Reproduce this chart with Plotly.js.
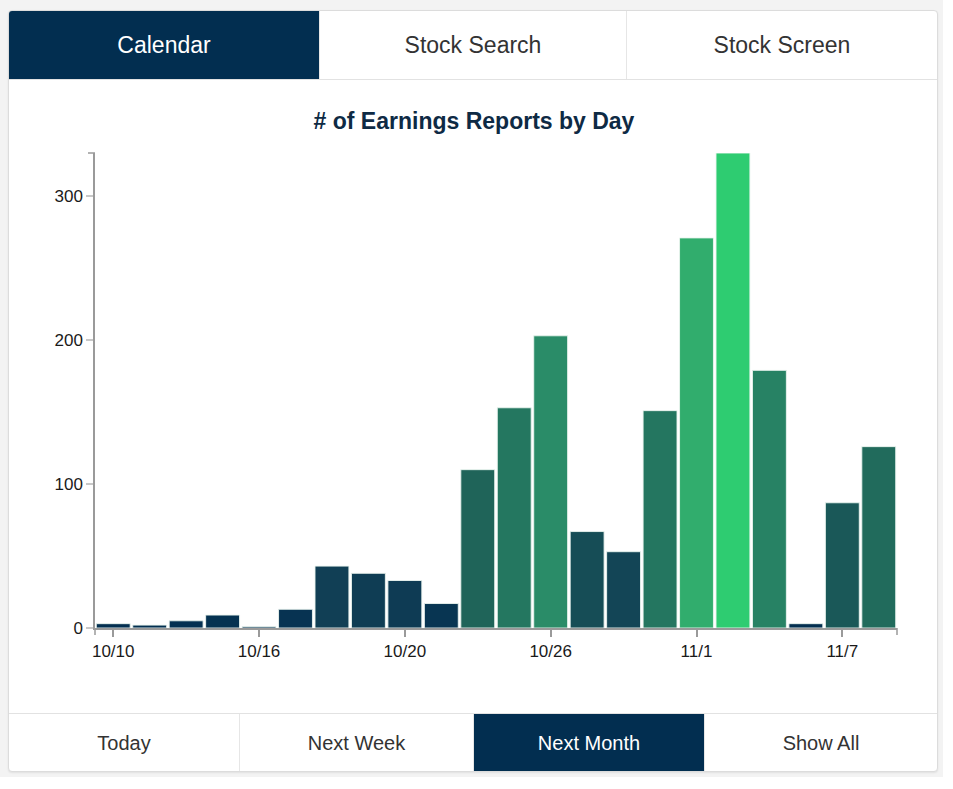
<!DOCTYPE html>
<html>
<head>
<meta charset="utf-8">
<script src="https://cdn.plot.ly/plotly-3.0.1.min.js"></script>
<style>
  html, body { margin: 0; padding: 0; background: #ffffff; font-family: "Liberation Sans", Arial, sans-serif; }
  #frame { position: absolute; left: 0; top: 0; width: 943px; height: 777px; background: #f3f3f3; }
  #card { position: absolute; left: 8px; top: 10px; width: 928px; height: 760px; background: #fff;
          border: 1px solid #dcdcdc; border-radius: 4px; overflow: hidden; box-shadow: 0 1px 2px rgba(0,0,0,0.08); }
  .row { position: absolute; left: 0; width: 100%; display: flex; }
  #tabs { top: 0; height: 68px; border-bottom: 1px solid #e2e2e2; }
  #btns { top: 702px; height: 58px; border-top: 1px solid #e2e2e2; }
  .cell { display: flex; align-items: center; justify-content: center; color: #333; box-sizing: border-box; }
  #tabs .cell { font-size: 23px; }
  #btns .cell { font-size: 20px; }
  .cell + .cell { border-left: 1px solid #e6e6e6; }
  .active { background: #022e50; color: #fff !important; }
  #chart { position: absolute; left: 0; top: 69px; width: 930px; height: 633px; }
</style>
</head>
<body>
<div id="frame"></div>
<div id="card">
  <div id="tabs" class="row">
    <div class="cell active" style="width:310px">Calendar</div>
    <div class="cell" style="width:307px">Stock Search</div>
    <div class="cell" style="width:311px">Stock Screen</div>
  </div>
  <div id="chart"></div>
  <div id="btns" class="row">
    <div class="cell" style="width:230px">Today</div>
    <div class="cell" style="width:234px">Next Week</div>
    <div class="cell active" style="width:231px">Next Month</div>
    <div class="cell" style="width:233px">Show All</div>
  </div>
</div>
<script>
const dates = ['10/10','10/11','10/12','10/13','10/16','10/17','10/18','10/19','10/20',
               '10/23','10/24','10/25','10/26','10/27','10/30','10/31','11/1','11/2','11/3',
               '11/6','11/7','11/8'];
const counts = [3, 2, 5, 9, 1, 13, 43, 38, 33, 17, 110, 153, 203, 67, 53, 151, 271, 330, 179, 3, 87, 126];
const tickLabels = ['10/10','10/16','10/20','10/26','11/1','11/7'];
const yTicks = [0, 100, 200, 300];

const trace = {
  type: 'bar',
  x: dates,
  y: counts,
  marker: {
    color: counts,
    cmin: 0,
    cmax: Math.max(...counts),
    colorscale: [[0, '#022e50'], [0.13, '#113f55'], [0.33, '#1f6459'], [0.62, '#2a8d68'], [0.82, '#31ad6d'], [1, '#2ecc71']],
    showscale: false,
    line: { color: 'rgba(235,245,240,0.9)', width: 1 }
  },
  hoverinfo: 'x+y'
};

const axisColor = '#9a9a9a';
const layout = {
  width: 930, height: 633,
  margin: { l: 86, r: 42, t: 73, b: 85 },
  paper_bgcolor: '#ffffff',
  plot_bgcolor: '#ffffff',
  font: { family: '"Liberation Sans", Arial, sans-serif', color: '#1a1a1a' },
  title: {
    text: '<b># of Earnings Reports by Day</b>',
    font: { size: 23, color: '#0e2a44', family: '"Liberation Sans", Arial, sans-serif' },
    x: 0.5, xanchor: 'center', xref: 'container',
    y: 1 - 41 / 633, yanchor: 'middle', yref: 'container'
  },
  bargap: 0.07,
  showlegend: false,
  xaxis: {
    type: 'category',
    range: [-0.5, dates.length - 0.5],
    tickmode: 'array', tickvals: tickLabels, ticktext: tickLabels,
    ticks: 'outside', ticklen: 7, tickcolor: axisColor, tickwidth: 1.5,
    showline: true, linecolor: axisColor, linewidth: 1.5,
    showgrid: false, zeroline: false,
    tickfont: { size: 17, color: '#1a1a1a' },
    fixedrange: true
  },
  yaxis: {
    range: [0, Math.max(...counts)],
    tickmode: 'array', tickvals: yTicks, ticktext: yTicks.map(String),
    ticks: 'outside', ticklen: 7, tickcolor: '#c8c8c8', tickwidth: 1.5,
    showline: true, linecolor: axisColor, linewidth: 1.5,
    showgrid: false, zeroline: false,
    tickfont: { size: 17, color: '#1a1a1a' },
    fixedrange: true
  },
  shapes: [
    { type: 'line', xref: 'paper', yref: 'paper', ysizemode: 'pixel', yanchor: 0, x0: 0, x1: 0, y0: 0, y1: -7, line: { color: axisColor, width: 1.5 } },
    { type: 'line', xref: 'paper', yref: 'paper', ysizemode: 'pixel', yanchor: 0, x0: 1, x1: 1, y0: 0, y1: -7, line: { color: axisColor, width: 1.5 } },
    { type: 'line', xref: 'paper', yref: 'paper', xsizemode: 'pixel', xanchor: 0, x0: 0, x1: -7, y0: 1, y1: 1, line: { color: axisColor, width: 1.5 } }
  ]
};

Plotly.newPlot('chart', [trace], layout, { displayModeBar: false, staticPlot: false });
</script>
</body>
</html>
